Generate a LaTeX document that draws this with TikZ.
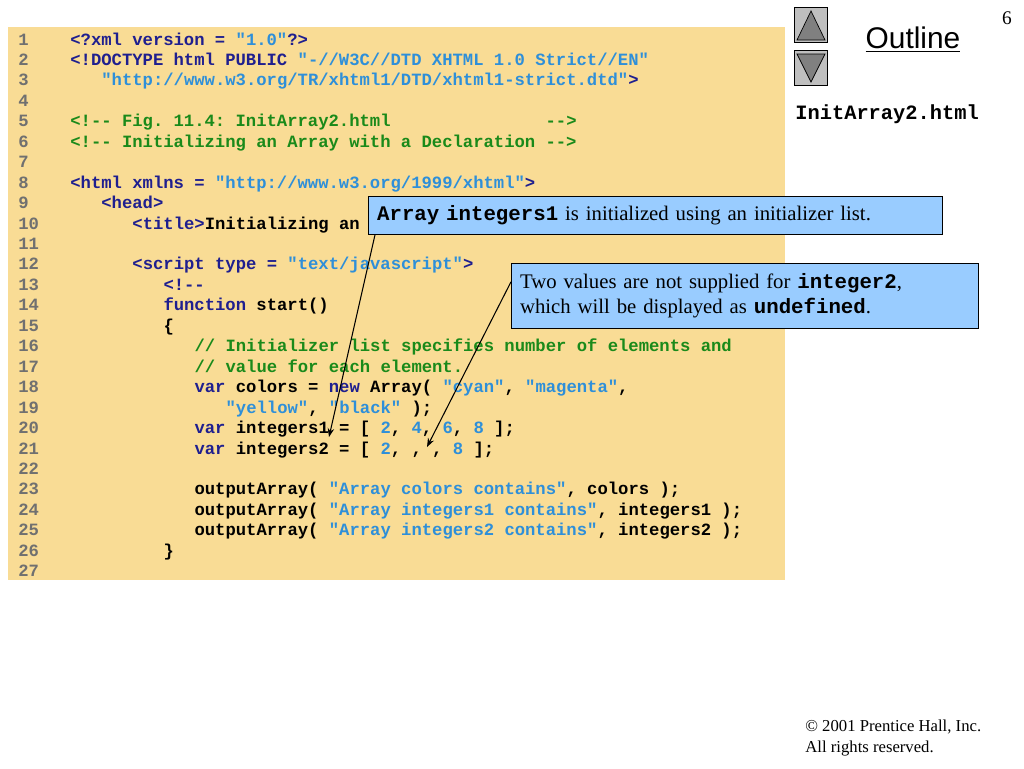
\documentclass[tikz,border=0pt]{standalone}
\usepackage{fontspec}
\setmainfont{Liberation Serif}
\setsansfont{Liberation Sans}
\setmonofont{Liberation Mono}
\usepackage{xcolor}
\usetikzlibrary{arrows.meta}
\definecolor{paper}{HTML}{F9DC95}
\definecolor{tagblue}{HTML}{1F1F8F}
\definecolor{strblue}{HTML}{2E8FD9}
\definecolor{cmgreen}{HTML}{1A8A1A}
\definecolor{numgray}{HTML}{707070}
\definecolor{callblue}{HTML}{99CCFF}
\newcommand{\tg}[1]{\textcolor{tagblue}{#1}}
\newcommand{\st}[1]{\textcolor{strblue}{#1}}
\newcommand{\cm}[1]{\textcolor{cmgreen}{#1}}
\newcommand{\codefont}{\ttfamily\bfseries\fontsize{9.8}{11}\selectfont}
\newcommand{\cl}[3]{\node[code] (c#1) at ({70+10.35*#2},{45+(#1-1)*20.45}) {#3};}

\begin{document}
\begin{tikzpicture}[x=0.02cm,y=-0.02cm,
    code/.style={anchor=base west,inner sep=0pt,font=\codefont},
    callout/.style={draw,fill=callblue,anchor=north west,align=left,inner xsep=5pt,inner ysep=4pt,font=\fontsize{11.8}{14.5}\selectfont},
    pointer/.style={-{Stealth[length=5pt]},semithick}]
    % Page and listing
    \useasboundingbox (0,0) rectangle (1024,768);
    \fill[paper] (8,27) rectangle (785,580);
    % Line numbers
    \foreach \n in {1,...,27} {%
        \node[code,text=numgray] (n\n) at (18,{45+(\n-1)*20.45}) {\n};
    }
    % Code lines
    \cl{1}{0}{\tg{<?xml version = }\st{"1.0"}\tg{?>}}
    \cl{2}{0}{\tg{<!DOCTYPE html PUBLIC }\st{"-//W3C//DTD XHTML 1.0 Strict//EN"}}
    \cl{3}{3}{\st{"http://www.w3.org/TR/xhtml1/DTD/xhtml1-strict.dtd"}\tg{>}}
    \cl{5}{0}{\cm{<!-- Fig. 11.4: InitArray2.html~~~~~~~~~~~~~~~-->}}
    \cl{6}{0}{\cm{<!-- Initializing an Array with a Declaration -->}}
    \cl{8}{0}{\tg{<html xmlns = }\st{"http://www.w3.org/1999/xhtml"}\tg{>}}
    \cl{9}{3}{\tg{<head>}}
    \cl{10}{6}{\tg{<title>}Initializing an Array\tg{</title>}}
    \cl{12}{6}{\tg{<script type = }\st{"text/javascript"}\tg{>}}
    \cl{13}{9}{\tg{<!--}}
    \cl{14}{9}{\tg{function} start()}
    \cl{15}{9}{\{}
    \cl{16}{12}{\cm{// Initializer list specifies number of elements and}}
    \cl{17}{12}{\cm{// value for each element.}}
    \cl{18}{12}{\tg{var} colors = \tg{new} Array( \st{"cyan"}, \st{"magenta"},}
    \cl{19}{15}{\st{"yellow"}, \st{"black"} );}
    \cl{20}{12}{\tg{var} integers1 = [ \st{2}, \st{4}, \st{6}, \st{8} ];}
    \cl{21}{12}{\tg{var} integers2 = [ \st{2}, , , \st{8} ];}
    \cl{23}{12}{outputArray( \st{"Array colors contains"}, colors );}
    \cl{24}{12}{outputArray( \st{"Array integers1 contains"}, integers1 );}
    \cl{25}{12}{outputArray( \st{"Array integers2 contains"}, integers2 );}
    \cl{26}{9}{\}}
    % Callouts
    \node[callout,text width=556*0.02cm,minimum height=38*0.02cm] (note1) at (368,196)
        {\texttt{\textbf{Array integers1}} is initialized using an initializer list.};
    \node[callout,text width=449*0.02cm,minimum height=65*0.02cm] (note2) at (511,263)
        {Two values are not supplied for \texttt{\textbf{integer2}},\\which will be displayed as \texttt{\textbf{undefined}}.};
    \coordinate (tip1) at (329,437);
    \coordinate (tip2) at (427,447);
    \draw[pointer] ([xshift=4pt]note1.south west) -- (tip1);
    \draw[pointer] ([yshift=8pt]note2.west) -- (tip2);
    % Navigation
    \node[draw,fill=lightgray,minimum width=33*0.02cm,minimum height=35*0.02cm] (up) at (811,25) {};
    \node[draw,fill=lightgray,minimum width=33*0.02cm,minimum height=35*0.02cm] (down) at (811,68) {};
    \fill[gray,draw=black] (797,40) -- (825,40) -- (811,11) -- cycle;
    \fill[gray,draw=black] (797,54) -- (825,54) -- (811,82) -- cycle;
    \node[font=\sffamily\fontsize{17}{19}\selectfont] (outline) at (913,40) {\underline{Outline}};
    \node[font=\fontsize{11}{13}\selectfont] (page) at (1007,18) {6};
    \node[code,font=\ttfamily\bfseries\fontsize{11.6}{13}\selectfont] (file) at (795,119) {InitArray2.html};
    \node[anchor=west,align=left,inner sep=0pt,font=\fontsize{9.5}{12}\selectfont] (copy) at (805,738)
        {\textcopyright{} 2001 Prentice Hall, Inc.\\All rights reserved.};
\end{tikzpicture}
\end{document}
